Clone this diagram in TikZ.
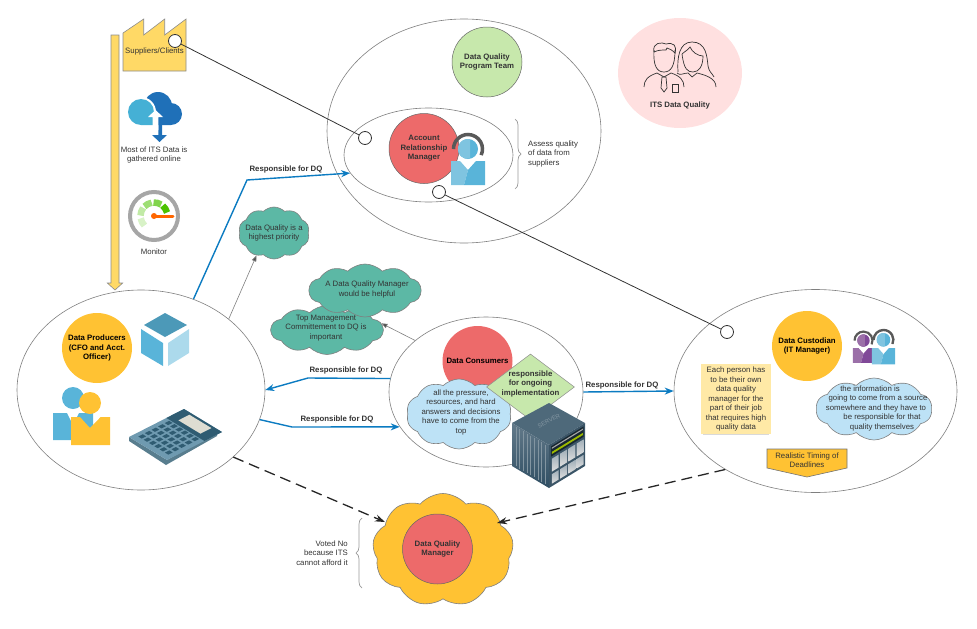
\documentclass[tikz,border=0pt]{standalone}
\usepackage{fontspec}
\setmainfont{Liberation Sans}
\usetikzlibrary{positioning, arrows.meta, shapes.geometric, shapes.symbols, decorations.pathreplacing, shadows}

\definecolor{linegray}{HTML}{7F7F7F}
\definecolor{textgray}{HTML}{333333}
\definecolor{flowblue}{HTML}{0B7BC1}
\definecolor{factoryyellow}{HTML}{FFD966}
\definecolor{amber}{HTML}{FFC233}
\definecolor{coral}{HTML}{ED6A6A}
\definecolor{leaf}{HTML}{C7E8AC}
\definecolor{teal}{HTML}{5CB8A5}
\definecolor{sky}{HTML}{BDE2F6}
\definecolor{iconblue}{HTML}{59B4D9}
\definecolor{iconlight}{HTML}{7FC4E0}
\definecolor{iconpurple}{HTML}{804998}
\definecolor{iconplum}{HTML}{9B6FA8}
\definecolor{uploaddark}{HTML}{1F70B8}
\definecolor{uploadlight}{HTML}{45B0D5}
\definecolor{steel}{HTML}{2F4E63}
\definecolor{slate}{HTML}{6F9AB0}
\definecolor{keydark}{HTML}{2F5C72}
\definecolor{stickynote}{HTML}{FFE9A6}

\tikzset{
  every node/.style = {font=\fontsize{7.8}{9.5}\selectfont, text=textgray, inner sep=0pt, align=center},
  group/.style = {ellipse, draw=linegray, line width=.6pt},
  role/.style = {circle, minimum size=70pt, font=\fontsize{7.8}{9.5}\selectfont\bfseries},
  pin/.style = {circle, draw=black!80, fill=white, line width=.8pt, minimum size=13pt},
  puff/.style = {cloud, cloud puffs=10, cloud puff arc=90, cloud ignores aspect, draw=linegray, line width=.6pt},
  flow/.style = {draw=flowblue, line width=1.4pt, -{Stealth[length=9pt,width=7pt]}},
  flowtext/.style = {font=\fontsize{7.8}{9.5}\selectfont\bfseries},
  link/.style = {draw=black!80, line width=.8pt},
  hint/.style = {draw=linegray, line width=.6pt, -{Triangle[length=6pt,width=4.5pt,fill=black!70]}},
  vote/.style = {draw=black!85, line width=1.3pt, dash pattern=on 11pt off 6pt, -{Stealth[length=10pt,width=7pt]}},
  curly/.style = {draw=black!40, line width=.7pt, decorate, decoration={brace, amplitude=6pt}}
}

% body top centre at (#1,#2), scale #3, colours #4 and #5
\newcommand{\agenticon}[5]{
\begin{scope}[shift={(#1,#2)}, scale=#3]
\draw[black!65, line width=3.5pt*#3] ([shift={(0,-12)}]180:14.5pt) arc[start angle=180, end angle=-25, radius=14.5pt];
\fill[#5] (0,-12) circle (10pt);
\fill[#4] (2,-21.8) arc[start angle=78, end angle=282, radius=10pt] -- cycle;
\fill[#4] (-17,0) -- (-8,0) -- (0,9) -- (-4,24) -- (-17,24) -- cycle;
\fill[#5] (8,0) -- (17,0) -- (17,24) -- (-4,24) -- (0,9) -- cycle;
\end{scope}
}

\begin{document}
\begin{tikzpicture}[x=1pt, y=-1pt]
\useasboundingbox (0,0) rectangle (977,629);

% ellipses
\node[group, minimum width=274pt, minimum height=224pt] (team) at (464,131) {};
\node[group, minimum width=169pt, minimum height=94pt] (account) at (428.5,155) {};
\node[group, minimum width=248pt, minimum height=200pt] (producers) at (141,390) {};
\node[group, minimum width=194pt, minimum height=150pt] (consumers) at (486,392) {};
\node[group, minimum width=283pt, minimum height=203pt] (custodians) at (815.5,391) {};

% its data quality
\node[ellipse, fill=red!12, minimum width=124pt, minimum height=110pt] (its) at (680,73) {};
\node[font=\fontsize{7.8}{9.5}\selectfont\bfseries] (itstext) at (680,105) {ITS Data Quality};
\begin{scope}[draw=black!80, line width=.7pt]
\draw (654,50) .. controls (653,66) and (657,72) .. (664,72) .. controls (671,72) and (675,66) .. (675,50);
\draw (654,52) .. controls (652,42) and (662,42) .. (666,44) .. controls (674,42) and (677,46) .. (675,53) .. controls (672,50) and (670,49) .. (667,48) -- (666,50) .. controls (662,50) and (658,50) .. (654,52);
\draw (644,87) .. controls (644,80) and (648,76) .. (657,73) -- (664,77) -- (671,73) .. controls (680,76) and (684,80) .. (684,87);
\draw (662,77) -- (666,77) -- (667,88) -- (664,92) -- (661,88) -- cycle;
\draw (672,84) rectangle (678,92);
\draw (678,72) .. controls (677,58) and (679,42) .. (692,42) .. controls (706,42) and (707,56) .. (708,66) .. controls (709,72) and (712,73) .. (714,77);
\draw (682,54) .. controls (684,70) and (688,72) .. (693,72) .. controls (699,72) and (703,66) .. (703,56) .. controls (698,56) and (692,52) .. (690,47) .. controls (688,50) and (684,52) .. (682,54);
\draw (677,73) .. controls (680,76) and (684,73) .. (688,73) -- (692,77) -- (697,73) .. controls (705,75) and (716,78) .. (716,87);
\end{scope}

% factory
\draw[fill=factoryyellow, draw=black!45, line width=.6pt] (123,33) -- (143.7,19) -- (143.7,35) -- (164.7,19) -- (164.7,35) -- (186,19) -- (186,71) -- (123,71) -- cycle;
\node (suppliers) at (154.5,51) {Suppliers/Clients};
\draw[fill=factoryyellow, draw=black!45, line width=.6pt] (111,35) -- (119,35) -- (119,283) -- (122.7,283) -- (115,290) -- (107.3,283) -- (111,283) -- cycle;

% cloud icon
\fill[uploaddark] (158,106) circle (14pt) (171,114) circle (11pt) (158,110) rectangle (171,125);
\fill[white] (141,112) circle (15pt);
\fill[uploadlight] (141,112) circle (13pt) (141,112) rectangle (153,125);
\fill[uploaddark] (158.3,125) rectangle (162,135) (152,135) -- (167,135) -- (159.5,142) -- cycle;
\fill[white] (148,117) -- (155.5,110) -- (163,117) -- (158.3,117) -- (158.3,130) -- (152.7,130) -- (152.7,117) -- cycle;
\node (onlinetext) at (154,155) {Most of ITS Data is\\gathered online};

% gauge
\node[circle, draw=black!35, line width=4pt, minimum size=48pt] (gauge) at (154,216) {};
\foreach \from/\to/\shade in {15/50/100, 58/92/70, 100/135/55, 143/178/35, 190/225/22}
  \draw[green!60!black!60!lime, opacity=\shade/100, line width=6.5pt] ([shift={(154,216)}]\from:13.5pt) arc[start angle=\from, end angle=\to, radius=13.5pt];
\draw[orange!80!red, line width=3pt, line cap=round] (154,216) -- (173,216);
\fill[orange!80!red] (154,216) circle (3pt);
\node (monitortext) [below = 7pt of gauge] {Monitor};

% producers
\node[role, fill=amber, text=black] (producer) at (97,348) {Data Producers\\(CFO and Acct.\\Officer)};
\fill[iconblue!85!black] (144,325) -- (165,313) -- (187,325) -- (165,337) -- cycle;
\fill[iconblue] (141,329) -- (163,343) -- (163,366) -- (141,353) -- cycle;
\fill[iconblue!50] (168,343) -- (189,329) -- (189,353) -- (168,366) -- cycle;
\fill[iconblue] (73,398) circle (11pt);
\fill[iconblue] (53,413) -- (67,413) -- (73,425) -- (79,413) -- (93,413) -- (93,440) -- (53,440) -- cycle;
\fill[amber] (90,403) circle (11pt);
\fill[amber] (71,417) -- (80,417) -- (90,428) -- (100.7,417) -- (110,417) -- (110,445) -- (71,445) -- cycle;
% calculator
\fill[keydark!80] (129,437) -- (129,441) -- (166,465) -- (217,436) -- (217,432) -- (167,460) -- cycle;
\begin{scope}[shift={(129,437)}, x={(55pt,28pt)}, y={(38pt,-23pt)}]
\fill[slate] (0,0) -- (1,0) -- (1,1) -- (0,1) -- cycle;
\fill[keydark] (.68,0) -- (1,0) -- (1,1) -- (.68,1) -- cycle;
\fill[yellow!15!gray!35] (.76,.2) -- (.96,.2) -- (.96,.78) -- (.76,.78) -- cycle;
\foreach \a in {.1,.22,.34,.46,.58}
  \foreach \b in {.1,.24,.38,.52,.66,.8}
    \fill[keydark] (\a,\b) -- ++(.08,0) -- ++(0,.09) -- ++(-.08,0) -- cycle;
\end{scope}

% account relationship manager
\node[role, fill=coral, draw=black!60, line width=.5pt] (manager) at (424,148.5) {Account\\Relationship\\Manager};
\agenticon{468}{161}{1}{iconlight}{iconblue}
\node[role, fill=leaf, draw=black!60, line width=.5pt] (program) at (487,62) {Data Quality\\Program Team};
\coordinate (assesstop) at (515,119);
\coordinate (assessbottom) at (515,189);
\draw[curly] (assesstop) -- (assessbottom);
\node[align=left, anchor=west] (assesstext) at (528,153.5) {Assess quality\\of data from\\suppliers};

% clouds
\node[puff, fill=teal, minimum width=71pt, minimum height=52pt] (priority) at (274,233) {};
\node (prioritytext) at (274,233) {Data Quality is a\\highest priority};
\node[puff, fill=teal, minimum width=112pt, minimum height=49pt] (commitment) at (327,330) {};
\node[puff, fill=teal, minimum width=112pt, minimum height=53pt] (helpful) at (365,290.5) {};
\node (helpfultext) at (367,289.5) {A Data Quality Manager\\would be helpful};
\node (commitmenttext) at (326,328) {Top Management\\Committement to DQ is\\important};

% consumers
\node[role, fill=coral, text=black] (consumer) at (477.5,361) {Data Consumers};
\node[puff, fill=sky, minimum width=105pt, minimum height=70pt] (pressure) at (459,414) {};
\node (pressuretext) at (461,412) {all the pressure,\\resources, and hard\\answers and decisions\\have to come from the\\top};
\node[diamond, fill=leaf, draw=black!45, line width=.5pt, minimum width=88pt, minimum height=66pt, aspect=1.3] (ongoing) at (530.5,387) {};
\node[font=\fontsize{7.8}{9.5}\selectfont\bfseries] (ongoingtext) at (530.5,383.5) {responsible\\for ongoing\\implementation};

% server
\fill[steel!85!white] (549,403) -- (585,423) -- (549,445) -- (512,423) -- cycle;
\node[rotate=28, text=white!40!steel, font=\fontsize{6}{6}\selectfont] (servertext) at (549,421) {SERVER};
\begin{scope}[shift={(512,423)}, x={(37pt,-22pt)}, y={(0pt,-43pt)}]
\shade[top color=steel!75!white, bottom color=steel] (0,0) -- (1,0) -- (1,1) -- (0,1) -- cycle;
\foreach \a in {.1,.2,...,.95}
  \draw[steel!60!white, line width=.4pt] (\a,.04) -- (\a,.96);
\end{scope}
\begin{scope}[shift={(549,445)}, x={(36pt,22pt)}, y={(0pt,-43pt)}]
\fill[steel!85!gray] (0,0) -- (1,0) -- (1,1) -- (0,1) -- cycle;
\fill[steel!50!black] (.06,.06) -- (.96,.06) -- (.96,.3) -- (.06,.3) -- cycle;
\fill[lime!45!olive] (.08,.2) -- (.94,.2) -- (.94,.25) -- (.08,.25) -- cycle;
\fill[gray!70!white] (.08,.1) -- (.94,.1) -- (.94,.13) -- (.08,.13) -- cycle;
\foreach \b/\h in {.36/.3, .72/.22}
  \foreach \a in {.08,.31,.54,.77}
    \shade[top color=steel!45!white, bottom color=gray!25] (\a,\b) -- ++(.19,0) -- ++(0,\h) -- ++(-.19,0) -- cycle;
\end{scope}

% custodian
\node[role, fill=amber, text=black] (custodian) at (807,346) {Data Custodian\\(IT Manager)};
\agenticon{863.5}{348}{.62}{iconplum}{iconpurple}
\agenticon{883.5}{348}{.68}{iconlight}{iconblue}
\node[fill=stickynote, drop shadow={shadow xshift=0pt, shadow yshift=-3pt, shadow scale=.94, opacity=.3}, minimum width=70pt, minimum height=70pt] (sticky) at (736,399) {Each person has\\to be their own\\data quality\\manager for the\\part of their job\\that requires high\\quality data};
\node[puff, fill=sky, minimum width=116pt, minimum height=62pt] (source) at (874,409) {};
\node (sourcetext) at (876,408) {the information is\hspace*{12pt}\\\hspace*{4pt}going to come from a source\\somewhere and they have to\hspace*{6pt}\\\hspace*{12pt}be responsible for that\\\hspace*{12pt}quality themselves};
\draw[fill=amber, draw=black!55, line width=.6pt] (767,449) -- (847,449) -- (847,468) -- (807,477) -- (767,468) -- cycle;
\node (deadlinetext) at (807,460) {Realistic Timing of\\Deadlines};

% data quality manager
\node[puff, cloud puffs=9, cloud puff arc=100, fill=amber, minimum width=141pt, minimum height=113pt] (dqcloud) at (443,550) {};
\node[role, fill=coral, draw=black!60, line width=.5pt] (dqmanager) at (437.5,549) {Data Quality\\Manager};
\coordinate (votedbottom) at (362,588);
\coordinate (votedtop) at (362,518);
\draw[curly] (votedbottom) -- (votedtop);
\node[align=right, anchor=east] (votedtext) at (348,553) {Voted No\\because ITS\\cannot afford it};

% pins and lines
\node[pin] (supplierpin) at (175,41) {};
\node[pin] (accountpin) at (365,138) {};
\node[pin] (managerpin) at (439,192) {};
\node[pin] (custodianpin) at (727,332) {};
\draw[link] (supplierpin) -- (accountpin);
\draw[link] (managerpin) -- (custodianpin);

% responsible for dq
\coordinate (bendup) at (247,180);
\coordinate (bendleft) at (308,378);
\coordinate (bendright) at (292,427);
\draw[flow] (producers.60) -- (bendup) -- (account.193);
\draw[flow] (consumers.172) -- (bendleft) -- (producers.east);
\draw[flow] (producers.-14) -- (bendright) -- (consumers.202);
\draw[flow] (consumers.east) -- (custodians.west);
\node[flowtext] (flowtexta) at (286,169) {Responsible for DQ};
\node[flowtext] (flowtextb) at (346,370.5) {Responsible for DQ};
\node[flowtext] (flowtextc) at (337,419) {Responsible for DQ};
\node[flowtext] (flowtextd) at (622,385) {Responsible for DQ};

\coordinate (dqnotch) at (385,522);
\coordinate (dqright) at (497,523);
\draw[hint] (producers.39) -- (priority.232);
\draw[hint] (consumers.144) -- (commitment.7);
\draw[vote] (producers.-36) -- (dqnotch);
\draw[vote] (custodians.221) -- (dqright);
\end{tikzpicture}
\end{document}
